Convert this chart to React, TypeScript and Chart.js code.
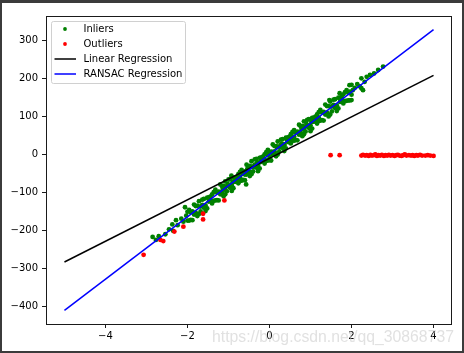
import React, { useEffect, useRef } from "react";
import { Chart, registerables } from "chart.js";

Chart.register(...registerables);

// main band, two readings per column (x, y)
const bandX = [
  -2.0, -2.0, -1.96, -1.96, -1.92, -1.92, -1.88, -1.88, -1.84, -1.84, -1.8, -1.8, -1.76, -1.76, -1.72, -1.72,
  -1.68, -1.68, -1.64, -1.64, -1.6, -1.6, -1.56, -1.56, -1.52, -1.52, -1.48, -1.48, -1.44, -1.44, -1.4, -1.4,
  -1.36, -1.36, -1.32, -1.32, -1.28, -1.28, -1.24, -1.24, -1.2, -1.2, -1.16, -1.16, -1.12, -1.12, -1.08, -1.08,
  -1.04, -1.04, -1.0, -1.0, -0.96, -0.96, -0.92, -0.92, -0.88, -0.88, -0.84, -0.84, -0.8, -0.8, -0.76, -0.76,
  -0.72, -0.72, -0.68, -0.68, -0.64, -0.64, -0.6, -0.6, -0.56, -0.56, -0.52, -0.52, -0.48, -0.48, -0.44, -0.44,
  -0.4, -0.4, -0.36, -0.36, -0.32, -0.32, -0.28, -0.28, -0.24, -0.24, -0.2, -0.2, -0.16, -0.16, -0.12, -0.12,
  -0.08, -0.08, -0.04, -0.04, 0.0, 0.0, 0.04, 0.04, 0.08, 0.08, 0.12, 0.12, 0.16, 0.16, 0.2, 0.2,
  0.24, 0.24, 0.28, 0.28, 0.32, 0.32, 0.36, 0.36, 0.4, 0.4, 0.44, 0.44, 0.48, 0.48, 0.52, 0.52,
  0.56, 0.56, 0.6, 0.6, 0.64, 0.64, 0.68, 0.68, 0.72, 0.72, 0.76, 0.76, 0.8, 0.8, 0.84, 0.84,
  0.88, 0.88, 0.92, 0.92, 0.96, 0.96, 1.0, 1.0, 1.04, 1.04, 1.08, 1.08, 1.12, 1.12, 1.16, 1.16,
  1.2, 1.2, 1.24, 1.24, 1.28, 1.28, 1.32, 1.32, 1.36, 1.36, 1.4, 1.4, 1.44, 1.44, 1.48, 1.48,
  1.52, 1.52, 1.56, 1.56, 1.6, 1.6, 1.64, 1.64, 1.68, 1.68, 1.72, 1.72, 1.76, 1.76, 1.8, 1.8,
  1.84, 1.84, 1.88, 1.88, 1.92, 1.92, 1.96, 1.96, 2.0, 2.0,
];
const bandY = [
  -150, -173, -173, -145, -151, -171, -172, -149, -131, -157, -152, -135, -134, -161, -156, -122,
  -136, -149, -118, -132, -139, -116, -148, -133, -113, -141, -123, -112, -110, -119, -128, -104,
  -98, -121, -120, -92, -99, -119, -120, -97, -78, -104, -99, -82, -82, -109, -104, -70,
  -83, -96, -65, -79, -87, -64, -95, -80, -60, -88, -71, -60, -58, -67, -75, -51,
  -45, -68, -68, -40, -46, -66, -67, -44, -26, -52, -47, -30, -29, -56, -51, -17,
  -31, -44, -12, -26, -34, -11, -43, -28, -8, -36, -18, -7, -5, -14, -23, 1,
  7, -16, -15, 13, 6, -14, -15, 8, 27, 1, 6, 23, 23, -4, 1, 35,
  22, 9, 40, 26, 18, 41, 10, 25, 45, 17, 34, 45, 47, 38, 30, 54,
  60, 37, 37, 65, 59, 39, 38, 61, 79, 53, 58, 75, 76, 49, 54, 88,
  74, 61, 92, 78, 71, 94, 62, 77, 97, 69, 87, 98, 100, 91, 82, 106,
  112, 89, 90, 118, 111, 91, 90, 113, 132, 106, 111, 128, 128, 101, 106, 140,
  127, 114, 145, 131, 123, 146, 115, 130, 150, 122, 139, 150, 152, 143, 135, 159,
  165, 142, 142, 170, 163, 143, 143, 166, 184, 158,
];

// dense core of the band
const coreX = [
  -1.2, -1.14, -1.08, -1.02, -0.96, -0.9, -0.84, -0.78, -0.72, -0.66, -0.6, -0.54, -0.48, -0.42, -0.36, -0.3,
  -0.24, -0.18, -0.12, -0.06, 0.0, 0.06, 0.12, 0.18, 0.24, 0.3, 0.36, 0.42, 0.48, 0.54, 0.6, 0.66,
  0.72, 0.78, 0.84, 0.9, 0.96, 1.02, 1.08, 1.14, 1.2,
];
const coreY = [
  -98, -89, -92, -77, -85, -72, -70, -59, -59, -50, -52, -37, -45, -32, -31, -20,
  -20, -11, -13, 2, -6, 7, 9, 20, 20, 29, 27, 41, 33, 46, 48, 59,
  59, 68, 66, 81, 73, 86, 88, 99, 98,
];

// sparse tails and stragglers
const tailX = [
  -2.85, -2.77, -2.7, -2.54, -2.45, -2.37, -2.35, -2.28, -2.24, -2.15, -2.1, -2.06, -2.03, -0.93, -0.57,
  1.46, 1.71, 1.95, 2.0, 2.03, 2.08, 2.14, 2.2, 2.24, 2.24, 2.28, 2.32, 2.37, 2.45, 2.55, 2.65, 2.77,
];
const tailY = [
  -216, -224, -214, -209, -196, -183, -200, -172, -185, -168, -176, -138, -160, -55, -78,
  144, 162, 183, 144, 170, 176, 186, 180, 175, 201, 170, 192, 205, 210, 214, 223, 232,
];

const outlierX = [
  -3.07, -2.66, -2.59, -2.32, -2.1, -1.62, -1.62, -1.1,
  1.49, 1.71, 2.24, 2.28, 2.33, 2.37, 2.42, 2.46, 2.5, 2.55, 2.58, 2.62, 2.66, 2.7, 2.74, 2.79,
  2.83, 2.87, 2.91, 2.95, 3.0, 3.05, 3.09, 3.13, 3.17, 3.22, 3.26, 3.3, 3.34, 3.4, 3.45, 3.49,
  3.53, 3.58, 3.62, 3.67, 3.72, 3.8, 3.86, 3.92, 4.0,
];
const outlierY = [
  -263, -224, -227, -202, -189, -155, -170, -120,
  -1, -1, -2, 0, -2, -1, -3, 0, -2, -1, 1, -3, -1, -2, 0, -3,
  -1, -2, 0, -2, -1, -3, -1, 0, -2, -3, -1, 1, -2, -1, -2, -1,
  -3, -1, -2, 0, -2, -2, -1, -2, -3,
];

const lineX = [-5, 4];
const linearY = [-282, 209];
const ransacY = [-409, 329];

const xTicks = [-4, -2, 0, 2, 4];
const yTicks = [-400, -300, -200, -100, 0, 100, 200, 300];
const seriesLabels = ["Inliers", "Outliers", "Linear Regression", "RANSAC Regression"];
const seriesColors = ["#008000", "#ff0000", "#000000", "#0000ff"];
const watermark = "https://blog.csdn.net/qq_30868737";

const FONT = "'DejaVu Sans', sans-serif";

const fmt = (v: number) => (v < 0 ? "\u2212" + Math.abs(v) : String(v));

const decorPlugin = {
  id: "decor",
  afterDatasetsDraw(chart: any) {
    const { ctx, chartArea } = chart;
    const { left, top, right, bottom } = chartArea;
    ctx.save();
    ctx.strokeStyle = "#1a1a1a";
    ctx.lineWidth = 1;
    ctx.strokeRect(Math.round(left) + 0.5, Math.round(top) + 0.5, Math.round(right - left) - 1, Math.round(bottom - top));
    ctx.restore();
  },
  afterDraw(chart: any) {
    const { ctx, chartArea } = chart;
    const { left, top } = chartArea;
    ctx.save();
    const bx = left + 5.5;
    const by = top + 5.5;
    const bw = 134;
    const bh = 62;
    ctx.fillStyle = "rgba(255,255,255,0.85)";
    ctx.strokeStyle = "#d0d0d0";
    ctx.lineWidth = 1;
    ctx.beginPath();
    (ctx as any).roundRect(bx, by, bw, bh, 2);
    ctx.fill();
    ctx.stroke();
    ctx.font = "10px " + FONT;
    ctx.textBaseline = "middle";
    ctx.textAlign = "left";
    seriesLabels.forEach((lab, i) => {
      const cy = by + 7.5 + i * 15;
      ctx.fillStyle = seriesColors[i];
      ctx.strokeStyle = seriesColors[i];
      if (i < 2) {
        ctx.beginPath();
        ctx.arc(bx + 13.5, cy, 1.9, 0, Math.PI * 2);
        ctx.fill();
      } else {
        ctx.lineWidth = 1.5;
        ctx.beginPath();
        ctx.moveTo(bx + 3, cy);
        ctx.lineTo(bx + 24.5, cy);
        ctx.stroke();
      }
      ctx.fillStyle = "#000";
      ctx.fillText(lab, bx + 32, cy + 0.5);
    });
    ctx.font = "17px 'Liberation Sans', Arial, sans-serif";
    const w = ctx.measureText(watermark).width;
    const size = 17 * (242 / w);
    ctx.font = size.toFixed(2) + "px 'Liberation Sans', Arial, sans-serif";
    ctx.fillStyle = "rgba(200,200,200,0.55)";
    ctx.textBaseline = "alphabetic";
    ctx.fillText(watermark, 210, 339);
    ctx.restore();
  },
};

export default function App() {
  const ref = useRef<HTMLCanvasElement>(null);
  useEffect(() => {
    document.body.style.margin = "0";
    const inliers = [
      ...bandX.map((x, i) => ({ x, y: bandY[i] })),
      ...coreX.map((x, i) => ({ x, y: coreY[i] })),
      ...tailX.map((x, i) => ({ x, y: tailY[i] })),
    ];
    const outliers = outlierX.map((x, i) => ({ x, y: outlierY[i] }));
    const linear = lineX.map((x, i) => ({ x, y: linearY[i] }));
    const ransac = lineX.map((x, i) => ({ x, y: ransacY[i] }));
    const chart = new Chart(ref.current as HTMLCanvasElement, {
      type: "scatter",
      data: {
        datasets: [
          { label: seriesLabels[0], data: inliers, backgroundColor: seriesColors[0], borderWidth: 0, pointRadius: 2.4, order: 4 },
          { label: seriesLabels[1], data: outliers, backgroundColor: seriesColors[1], borderWidth: 0, pointRadius: 2.4, order: 3 },
          { label: seriesLabels[2], data: linear, showLine: true, borderColor: seriesColors[2], borderWidth: 1.5, pointRadius: 0, order: 2 },
          { label: seriesLabels[3], data: ransac, showLine: true, borderColor: seriesColors[3], borderWidth: 1.5, pointRadius: 0, order: 1 },
        ] as any,
      },
      options: {
        animation: false,
        responsive: false,
        events: [],
        layout: { padding: { left: 0, top: 13, right: 10, bottom: 0 } },
        plugins: { legend: { display: false }, tooltip: { enabled: false } },
        scales: {
          x: {
            type: "linear",
            min: -5.45,
            max: 4.45,
            afterBuildTicks: (s: any) => {
              s.ticks = xTicks.map((v) => ({ value: v }));
            },
            afterFit: (s: any) => {
              s.height = 27;
            },
            border: { display: false },
            grid: { drawOnChartArea: false, drawTicks: true, tickLength: 4, color: "#1a1a1a", tickWidth: 1 },
            ticks: {
              font: { family: FONT, size: 10 },
              color: "#000",
              padding: 2,
              autoSkip: false,
              maxRotation: 0,
              callback: (v: any) => fmt(Number(v)),
            },
          },
          y: {
            type: "linear",
            min: -445,
            max: 365,
            afterBuildTicks: (s: any) => {
              s.ticks = yTicks.map((v) => ({ value: v }));
            },
            afterFit: (s: any) => {
              s.width = 44;
            },
            border: { display: false },
            grid: { drawOnChartArea: false, drawTicks: true, tickLength: 4, color: "#1a1a1a", tickWidth: 1 },
            ticks: {
              font: { family: FONT, size: 10 },
              color: "#000",
              padding: 4,
              autoSkip: false,
              callback: (v: any) => fmt(Number(v)),
            },
          },
        },
      },
      plugins: [decorPlugin],
    });
    return () => chart.destroy();
  }, []);

  return (
    <div style={{ position: "relative", width: 464, height: 353, background: "#3b3b3b", overflow: "hidden" }}>
      <div style={{ position: "absolute", left: 2, top: 3, width: 460, height: 348, background: "#ffffff" }}>
        <canvas ref={ref} width={460} height={348} style={{ display: "block", width: 460, height: 348 }} />
      </div>
    </div>
  );
}
